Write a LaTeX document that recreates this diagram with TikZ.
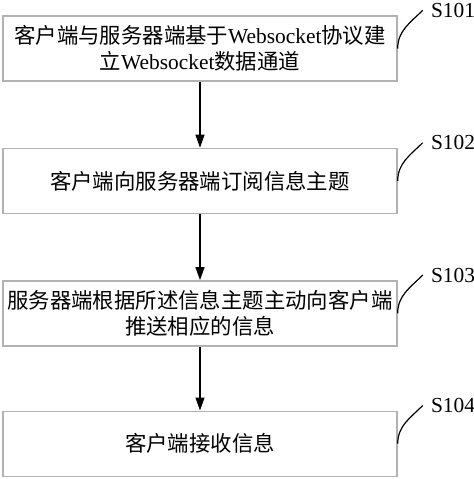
\documentclass[tikz,border=0pt]{standalone}
\usepackage{fontspec}
\setmainfont{Liberation Serif}
\newfontfamily\cjk{Noto Sans CJK SC}
\newcommand{\zh}[1]{{\cjk #1}}
\usetikzlibrary{positioning,arrows.meta}

\tikzset{
  stepbox/.style={draw=gray!60, line width=0.7pt, minimum width=197pt, minimum height=32.5pt,
    inner sep=1pt, align=center, font=\fontsize{10.7pt}{13pt}\selectfont},
  steplabel/.style={inner sep=0pt, font=\fontsize{10.7pt}{13pt}\selectfont},
  flow/.style={-{Triangle[length=6.5pt,width=4.5pt]}, line width=0.6pt},
  leader/.style={line width=0.6pt}
}

\begin{document}
\begin{tikzpicture}[x=0.5pt,y=-0.5pt,node distance=33pt]
  \useasboundingbox (0,0) rectangle (474,479);

  \node[stepbox] (b1) at (200,48.5) {\zh{客户端与服务器端基于}Websocket\zh{协议建}\\ \zh{立}Websocket\zh{数据通道}};
  \node[stepbox,below=of b1] (b2) {\zh{客户端向服务器端订阅信息主题}};
  \node[stepbox,below=of b2] (b3) {\zh{服务器端根据所述信息主题主动向客户端}\\ \zh{推送相应的信息}};
  \node[stepbox,below=32pt of b3] (b4) {\zh{客户端接收信息}};

  % step numbers with their leader lines
  \foreach \i in {1,...,4}{
    \node[steplabel,anchor=west] (l\i) at ([xshift=16.5pt,yshift=2.5pt]b\i.north east) {S10\i};
    \draw[leader] (b\i.east) to[out=90,in=225] ([xshift=-4pt]l\i.west);
  }

  \draw[flow] (b1) -- (b2);
  \draw[flow] (b2) -- (b3);
  \draw[flow] (b3) -- (b4);
\end{tikzpicture}
\end{document}
